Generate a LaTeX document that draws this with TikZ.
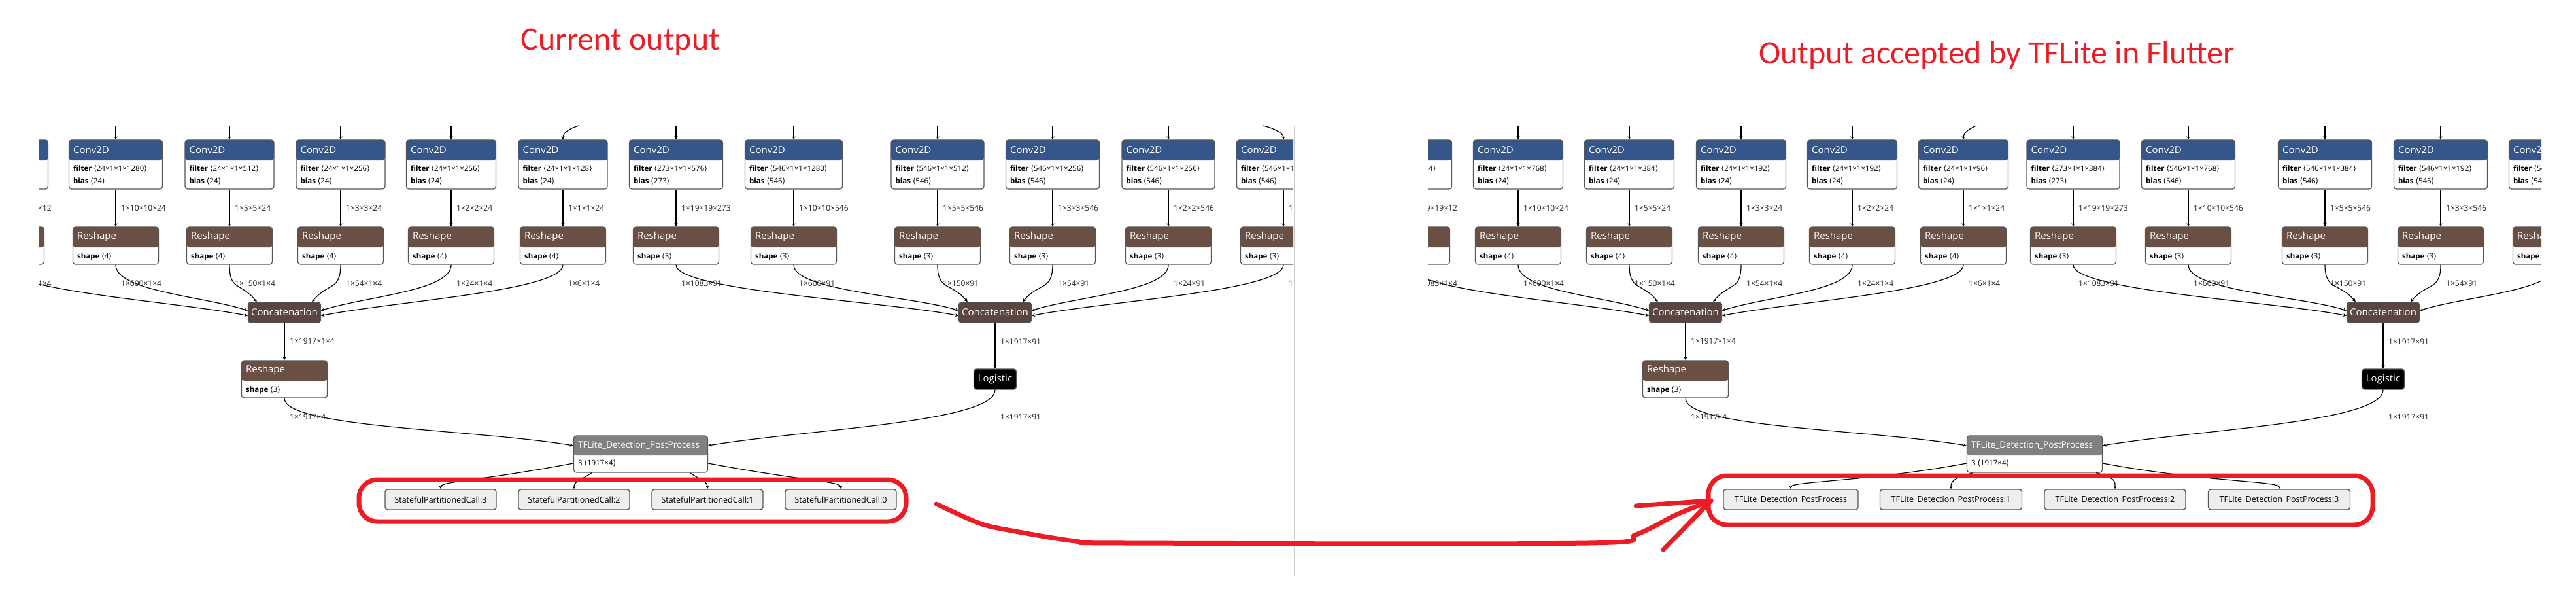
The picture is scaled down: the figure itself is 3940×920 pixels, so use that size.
\documentclass[tikz,border=0pt]{standalone}
\usepackage{fontspec}
\setmainfont{Open Sans}
\newfontfamily\dv{DejaVu Sans}
\newfontfamily\ttl{Carlito}
\usetikzlibrary{calc}
\definecolor{convblue}{HTML}{34568A}
\definecolor{reshbrown}{HTML}{6A4F45}
\definecolor{concatc}{HTML}{5A4540}
\definecolor{tfgray}{HTML}{808080}
\definecolor{bordc}{HTML}{555555}
\definecolor{redc}{HTML}{ED1C24}
\definecolor{outfill}{HTML}{EEEEEE}
\newcommand\ab[1]{{\dv ⟨}#1{\dv ⟩}}
\tikzset{
  hfill/.style 2 args={path picture={\fill[#1] (path picture bounding box.north west) rectangle ([yshift=-#2]path picture bounding box.north east);}},
  cbox/.style={draw=bordc, line width=1.3pt, fill=white, rounded corners=4pt, inner sep=0pt},
  htxt/.style={text=white, font=\fontsize{15}{18}\selectfont, inner sep=0pt, anchor=west},
  btxt/.style={text=black, font=\fontsize{11.5}{14}\selectfont, inner sep=0pt, anchor=west},
  elab/.style={text=black!85, font=\fontsize{12}{14}\selectfont, inner sep=0pt, anchor=west},
  arr/.style={draw=black, line width=1.2pt, -stealth},
  darkbox/.style={draw=bordc, line width=1.3pt, rounded corners=4pt, text=white, font=\fontsize{15}{18}\selectfont, minimum height=31pt, inner sep=3pt},
  onode/.style={draw=bordc, line width=1.3pt, fill=outfill, rounded corners=4pt, font=\fontsize{12.5}{15}\selectfont, minimum height=31pt, inner sep=0pt},
  redbox/.style={draw=redc, line width=7pt, rounded corners=28pt},
}
% boxes only: id, cx, conv width, lab1
\newcommand\unitbox[4]{%
  \coordinate (i#1) at (#2,192);
  \node[cbox, minimum width=#3pt, minimum height=75pt, hfill={convblue}{31pt}] (c#1) at (#2,251.5) {};
  \node[cbox, minimum width=131pt, minimum height=57pt, hfill={reshbrown}{31pt}] (r#1) at (#2,375.5) {};
  \draw[arr] (c#1.south) -- (r#1.north);
  \node[elab] (l#1) at (#2+8,318) {#4};
}
% id, cx, conv width, filter, bias, lab1, shape
\newcommand\unit[7]{%
  \unitbox{#1}{#2}{#3}{#6}
  \node[htxt] (c#1h) at ($(c#1.north west)+(7,15.5)$) {Conv2D};
  \node[btxt] (c#1f) at ($(c#1.north west)+(7,45)$) {\textbf{filter} \ab{#4}};
  \node[btxt] (c#1b) at ($(c#1.north west)+(7,64)$) {\textbf{bias} \ab{#5}};
  \node[htxt] (r#1h) at ($(r#1.north west)+(7,15.5)$) {Reshape};
  \node[btxt] (r#1s) at ($(r#1.north west)+(7,46)$) {\textbf{shape} \ab{#7}};
}
% from, target, control offset, label x, label
\newcommand\redge[5]{%
  \draw[arr] (#1.south) .. controls +(0,40) and #3 .. #2;
  \node[elab] at (#4,433) {#5};
}
\begin{document}
\begin{tikzpicture}[x=1pt,y=-1pt]
\useasboundingbox (0,0) rectangle (3940,920);
\fill[white] (0,0) rectangle (3940,920);
\node[text=redc, font=\ttl\fontsize{50}{55}\selectfont, inner sep=0pt] (t1) at (949,64) {Current output};
\node[text=redc, font=\ttl\fontsize{50}{55}\selectfont, inner sep=0pt] (t2) at (3054,84) {Output accepted by TFLite in Flutter};
\draw[black!20, line width=1pt] (1979,192) -- (1979,880);

% ================= LEFT PANEL =================
\begin{scope}
\clip (60,185) rectangle (1978,900);
\unitbox{a0}{2}{143}{1×19×19×12}
\unit{a1}{177}{143}{24×1×1×1280}{24}{1×10×10×24}{4}
\unit{a2}{351}{136}{24×1×1×512}{24}{1×5×5×24}{4}
\unit{a3}{521}{136}{24×1×1×256}{24}{1×3×3×24}{4}
\unit{a4}{690}{137}{24×1×1×256}{24}{1×2×2×24}{4}
\unit{a5}{861}{136}{24×1×1×128}{24}{1×1×1×24}{4}
\unit{b0}{1034}{143}{273×1×1×576}{273}{1×19×19×273}{3}
\unit{b1}{1214}{149}{546×1×1×1280}{546}{1×10×10×546}{3}
\unit{b2}{1434}{142}{546×1×1×512}{546}{1×5×5×546}{3}
\unit{b3}{1610}{143}{546×1×1×256}{546}{1×3×3×546}{3}
\unit{b4}{1787}{142}{546×1×1×256}{546}{1×2×2×546}{3}
\unit{b5}{1963}{143}{546×1×1×128}{546}{1×1×1×546}{3}
\foreach \n in {a0,a1,a2,a3,a4,b0,b1,b2,b3,b4} {\draw[arr] (i\n) -- (c\n.north);}
\draw[arr] (885,192) .. controls (866,198) and (861,205) .. (ca5.north);
\draw[arr] (1932,192) .. controls (1955,198) and (1963,205) .. (cb5.north);

\node[darkbox, fill=concatc, minimum width=111pt] (ka) at (435,477.5) {Concatenation};
\redge{ra0}{([yshift=-5pt]ka.west)}{+(-110,-22)}{10}{1×1083×1×4}
\redge{ra1}{([yshift=3pt]ka.west)}{+(-70,-22)}{185}{1×600×1×4}
\redge{ra2}{([xshift=14pt]ka.north west)}{+(-25,-30)}{359}{1×150×1×4}
\redge{ra3}{([xshift=-14pt]ka.north east)}{+(25,-30)}{529}{1×54×1×4}
\redge{ra4}{([yshift=3pt]ka.east)}{+(70,-22)}{698}{1×24×1×4}
\redge{ra5}{([yshift=-5pt]ka.east)}{+(110,-22)}{869}{1×6×1×4}

\node[darkbox, fill=concatc, minimum width=111pt] (kb) at (1522,477.5) {Concatenation};
\redge{rb0}{([yshift=-5pt]kb.west)}{+(-110,-22)}{1042}{1×1083×91}
\redge{rb1}{([yshift=3pt]kb.west)}{+(-70,-22)}{1222}{1×600×91}
\redge{rb2}{([xshift=14pt]kb.north west)}{+(-25,-30)}{1442}{1×150×91}
\redge{rb3}{([xshift=-14pt]kb.north east)}{+(25,-30)}{1618}{1×54×91}
\redge{rb4}{([yshift=3pt]kb.east)}{+(70,-22)}{1795}{1×24×91}
\redge{rb5}{([yshift=-5pt]kb.east)}{+(110,-22)}{1971}{1×6×91}

\node[cbox, minimum width=131pt, minimum height=57pt, hfill={reshbrown}{31pt}] (ra) at (435,579.5) {};
\node[htxt] (rah) at ($(ra.north west)+(7,15.5)$) {Reshape};
\node[btxt] (ras) at ($(ra.north west)+(7,46)$) {\textbf{shape} \ab{3}};
\draw[arr] (ka.south) -- (ra.north);
\node[elab] (lka) at (443,521) {1×1917×1×4};

\node[darkbox, fill=black, minimum width=65pt] (lg) at (1522,579.5) {Logistic};
\draw[arr] (kb.south) -- (lg.north);
\node[elab] (lkb) at (1530,522) {1×1917×91};

\node[cbox, minimum width=205pt, minimum height=56pt, hfill={tfgray}{30pt}] (tf) at (980,694) {};
\node[htxt, font=\fontsize{13.5}{16}\selectfont] (tfh) at ($(tf.north west)+(7,15)$) {TFLite\_Detection\_PostProcess};
\node[btxt] (tfs) at ($(tf.north west)+(7,43)$) {3 \ab{1917×4}};
\draw[arr] (ra.south) .. controls +(0,45) and +(-150,-25) .. ([yshift=13pt]tf.west);
\node[elab] at (443,637) {1×1917×4};
\draw[arr] (lg.south) .. controls +(0,50) and +(150,-25) .. ([yshift=13pt]tf.east);
\node[elab] at (1530,637) {1×1917×91};

\node[onode, minimum width=170pt] (oa3) at (674,763.5) {StatefulPartitionedCall:3};
\node[onode, minimum width=170pt] (oa2) at (878,763.5) {StatefulPartitionedCall:2};
\node[onode, minimum width=170pt] (oa1) at (1082,763.5) {StatefulPartitionedCall:1};
\node[onode, minimum width=170pt] (oa0) at (1286,763.5) {StatefulPartitionedCall:0};
\draw[arr] ([yshift=-14pt]tf.west) .. controls +(-150,28) and +(0,-12) .. (oa3.north);
\draw[arr] ([xshift=28pt]tf.south west) .. controls +(-18,12) and +(0,-12) .. (oa2.north);
\draw[arr] ([xshift=-28pt]tf.south east) .. controls +(18,12) and +(0,-12) .. (oa1.north);
\draw[arr] ([yshift=-14pt]tf.east) .. controls +(150,28) and +(0,-12) .. (oa0.north);
\end{scope}
\draw[redbox] (549,733) rectangle (1386,797);

% ================= RIGHT PANEL =================
\begin{scope}
\clip (2184,185) rectangle (3887,900);
\unit{p0}{2152}{137}{12×1×1×384}{12}{1×19×19×12}{4}
\unit{p1}{2322}{137}{24×1×1×768}{24}{1×10×10×24}{4}
\unit{p2}{2492}{137}{24×1×1×384}{24}{1×5×5×24}{4}
\unit{p3}{2663}{137}{24×1×1×192}{24}{1×3×3×24}{4}
\unit{p4}{2833}{137}{24×1×1×192}{24}{1×2×2×24}{4}
\unit{p5}{3003}{137}{24×1×1×96}{24}{1×1×1×24}{4}
\unit{q0}{3171}{142}{273×1×1×384}{273}{1×19×19×273}{3}
\unit{q1}{3347}{143}{546×1×1×768}{546}{1×10×10×546}{3}
\unit{q2}{3556}{143}{546×1×1×384}{546}{1×5×5×546}{3}
\unit{q3}{3733}{143}{546×1×1×192}{546}{1×3×3×546}{3}
\unit{q4}{3909}{143}{546×1×1×192}{546}{1×2×2×546}{3}
\foreach \n in {p0,p1,p2,p3,p4,q0,q1,q2,q3,q4} {\draw[arr] (i\n) -- (c\n.north);}
\draw[arr] (3023,192) .. controls (3008,198) and (3003,205) .. (cp5.north);

\node[darkbox, fill=concatc, minimum width=111pt] (kp) at (2578,477.5) {Concatenation};
\redge{rp0}{([yshift=-5pt]kp.west)}{+(-110,-22)}{2160}{1×1083×1×4}
\redge{rp1}{([yshift=3pt]kp.west)}{+(-70,-22)}{2330}{1×600×1×4}
\redge{rp2}{([xshift=14pt]kp.north west)}{+(-25,-30)}{2500}{1×150×1×4}
\redge{rp3}{([xshift=-14pt]kp.north east)}{+(25,-30)}{2671}{1×54×1×4}
\redge{rp4}{([yshift=3pt]kp.east)}{+(70,-22)}{2841}{1×24×1×4}
\redge{rp5}{([yshift=-5pt]kp.east)}{+(110,-22)}{3011}{1×6×1×4}

\node[darkbox, fill=concatc, minimum width=111pt] (kq) at (3645,477.5) {Concatenation};
\redge{rq0}{([yshift=-5pt]kq.west)}{+(-110,-22)}{3179}{1×1083×91}
\redge{rq1}{([yshift=3pt]kq.west)}{+(-70,-22)}{3355}{1×600×91}
\redge{rq2}{([xshift=14pt]kq.north west)}{+(-25,-30)}{3564}{1×150×91}
\redge{rq3}{([xshift=-14pt]kq.north east)}{+(25,-30)}{3741}{1×54×91}
\redge{rq4}{([yshift=3pt]kq.east)}{+(70,-22)}{3917}{1×24×91}

\node[cbox, minimum width=131pt, minimum height=57pt, hfill={reshbrown}{31pt}] (rp) at (2578,579.5) {};
\node[htxt] (rph) at ($(rp.north west)+(7,15.5)$) {Reshape};
\node[btxt] (rps) at ($(rp.north west)+(7,46)$) {\textbf{shape} \ab{3}};
\draw[arr] (kp.south) -- (rp.north);
\node[elab] (lkp) at (2586,521) {1×1917×1×4};

\node[darkbox, fill=black, minimum width=65pt] (lq) at (3645,579.5) {Logistic};
\draw[arr] (kq.south) -- (lq.north);
\node[elab] (lkq) at (3653,522) {1×1917×91};

\node[cbox, minimum width=207pt, minimum height=56pt, hfill={tfgray}{30pt}] (tq) at (3112,694) {};
\node[htxt, font=\fontsize{13.5}{16}\selectfont] (tqh) at ($(tq.north west)+(7,15)$) {TFLite\_Detection\_PostProcess};
\node[btxt] (tqs) at ($(tq.north west)+(7,43)$) {3 \ab{1917×4}};
\draw[arr] (rp.south) .. controls +(0,45) and +(-150,-25) .. ([yshift=13pt]tq.west);
\node[elab] at (2586,637) {1×1917×4};
\draw[arr] (lq.south) .. controls +(0,50) and +(150,-25) .. ([yshift=13pt]tq.east);
\node[elab] at (3653,637) {1×1917×91};

\node[onode, minimum width=206pt] (op0) at (2739,763.5) {TFLite\_Detection\_PostProcess};
\node[onode, minimum width=217pt] (op1) at (2984,763.5) {TFLite\_Detection\_PostProcess:1};
\node[onode, minimum width=216pt] (op2) at (3235,763.5) {TFLite\_Detection\_PostProcess:2};
\node[onode, minimum width=217pt] (op3) at (3486,763.5) {TFLite\_Detection\_PostProcess:3};
\draw[arr] ([yshift=-14pt]tq.west) .. controls +(-150,28) and +(0,-12) .. (op0.north);
\draw[arr] ([xshift=10pt]tq.south west) .. controls +(-30,8) and +(0,-12) .. (op1.north);
\draw[arr] ([xshift=-10pt]tq.south east) .. controls +(30,8) and +(0,-12) .. (op2.north);
\draw[arr] ([yshift=-14pt]tq.east) .. controls +(150,28) and +(0,-12) .. (op3.north);
\end{scope}
\draw[redbox] (2613,727) rectangle (3629,802);

% red hand-drawn arrow
\draw[redc, line width=7pt, line cap=round, line join=round] plot[smooth, tension=0.5] coordinates {(1432,770) (1499,800) (1553,812) (1645,827) (1721,830) (2429,830) (2502,817) (2563,787) (2617,765)};
\draw[redc, line width=7pt, line cap=round, line join=round] (2502,773) -- (2617,765) -- (2544,840);
\end{tikzpicture}
\end{document}
